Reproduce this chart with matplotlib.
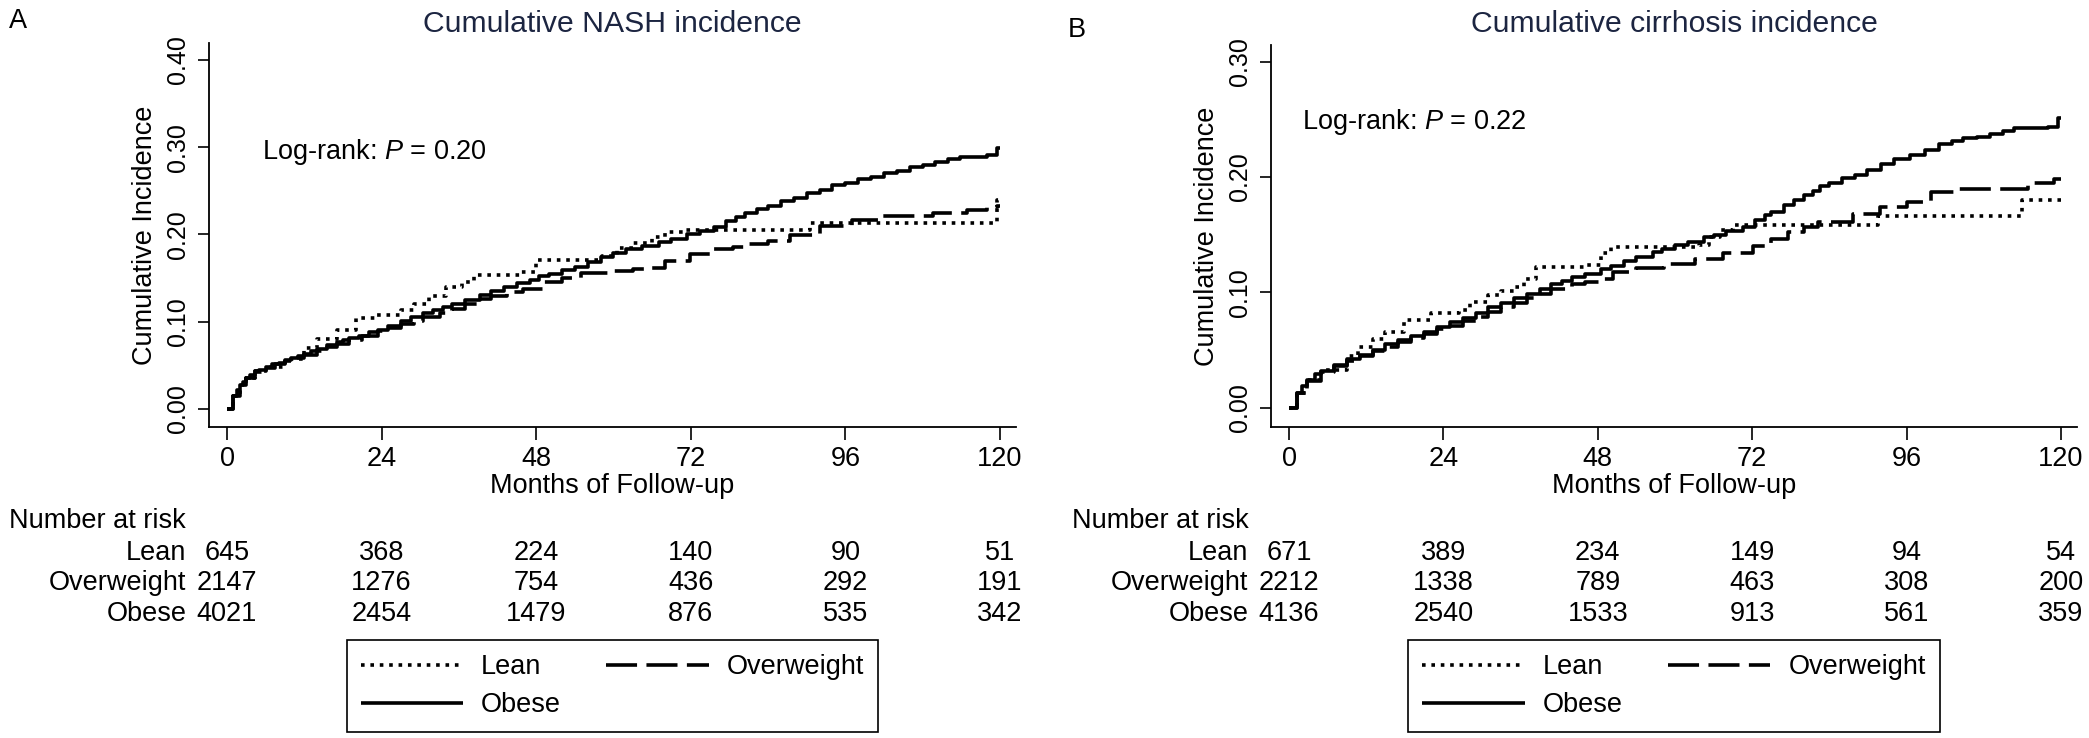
import matplotlib
matplotlib.use("Agg")
import matplotlib.pyplot as plt

plt.rcParams['font.family'] = ['Liberation Sans', 'DejaVu Sans']
plt.rcParams['mathtext.fontset'] = 'custom'
plt.rcParams['mathtext.it'] = 'Liberation Sans:italic'
plt.rcParams['mathtext.rm'] = 'Liberation Sans'

# ---- data ----
groups = ["Lean", "Overweight", "Obese"]
risk_months = [0, 24, 48, 72, 96, 120]

# panel A: NASH
nash_lean_t = [0, 0.5, 1, 2, 3, 4.3, 6, 9, 12, 14, 17, 20, 23, 27, 29, 31.4, 34, 36.5, 38.4,
               45.5, 48, 58.2, 60.5, 63, 66, 68, 71, 90.5, 119.5, 120]
nash_lean_v = [0, 0, 0.015, 0.027, 0.035, 0.043, 0.048, 0.057, 0.070, 0.080, 0.090, 0.104, 0.108,
               0.113, 0.120, 0.130, 0.140, 0.146, 0.153, 0.157, 0.171, 0.175, 0.184, 0.190, 0.197,
               0.203, 0.205, 0.213, 0.239, 0.239]
nash_over_t = [0, 0.5, 1, 2, 3, 4.3, 6, 7.5, 9, 10.5, 12, 14, 15.5, 17, 19, 21, 23.4, 25, 27, 29,
               30.5, 33, 35, 37, 39.3, 41, 43.5, 46, 49, 52, 55, 60, 63, 65.7, 68, 71.9, 75, 78.6,
               81, 84, 87.4, 92, 97, 101.9, 109.6, 114.9, 118, 119.5, 120]
nash_over_v = [0, 0, 0.015, 0.027, 0.035, 0.042, 0.047, 0.051, 0.055, 0.058, 0.062, 0.067, 0.071,
               0.075, 0.079, 0.084, 0.089, 0.093, 0.097, 0.101, 0.105, 0.110, 0.115, 0.120, 0.126,
               0.129, 0.134, 0.138, 0.145, 0.150, 0.156, 0.158, 0.160, 0.162, 0.170, 0.178, 0.183,
               0.186, 0.189, 0.192, 0.199, 0.210, 0.216, 0.221, 0.224, 0.228, 0.231, 0.233, 0.233]
nash_obese_t = [0, 0.5, 1, 1.5, 2, 2.5, 3, 3.6, 4.3, 5, 6, 7, 8, 9, 10, 11, 12, 13, 14, 15.5, 17,
                18, 19, 20.5, 22, 23.4, 25, 27, 28.5, 30.5, 32, 33.5, 35, 37, 39.3, 41, 43, 45, 47,
                48.5, 50, 52, 54, 56, 58, 60, 62, 64.5, 67, 69, 71.4, 73.5, 75.6, 77.5, 79, 80.5,
                82.3, 84, 86, 88, 90, 92, 94, 96, 98, 100, 102, 104, 106, 108, 110, 112, 113.8,
                118, 119.5, 120]
nash_obese_v = [0, 0, 0.015, 0.022, 0.027, 0.031, 0.035, 0.039, 0.043, 0.045, 0.048, 0.051, 0.053,
                0.056, 0.058, 0.061, 0.063, 0.066, 0.069, 0.073, 0.077, 0.079, 0.081, 0.084, 0.088,
                0.091, 0.095, 0.101, 0.105, 0.110, 0.113, 0.117, 0.120, 0.125, 0.131, 0.135, 0.140,
                0.144, 0.148, 0.152, 0.155, 0.159, 0.163, 0.168, 0.174, 0.179, 0.183, 0.187, 0.191,
                0.195, 0.200, 0.204, 0.209, 0.215, 0.220, 0.224, 0.229, 0.233, 0.238, 0.242, 0.247,
                0.251, 0.256, 0.259, 0.263, 0.266, 0.270, 0.273, 0.277, 0.280, 0.283, 0.286, 0.289,
                0.291, 0.299, 0.299]
nash_risk = {"Lean": [645, 368, 224, 140, 90, 51],
             "Overweight": [2147, 1276, 754, 436, 292, 191],
             "Obese": [4021, 2454, 1479, 876, 535, 342]}

# panel B: cirrhosis
cirr_lean_t = [0, 0.5, 1.2, 2.8, 5, 9, 10.7, 13, 15, 17.8, 22, 26.5, 28.2, 31, 33, 35.2, 36.5, 38.4,
               46, 48.5, 50, 63.7, 65.3, 67, 69, 91.6, 114, 120]
cirr_lean_v = [0, 0, 0.013, 0.024, 0.033, 0.045, 0.053, 0.060, 0.066, 0.076, 0.082, 0.085, 0.092,
               0.098, 0.101, 0.105, 0.112, 0.122, 0.124, 0.134, 0.139, 0.141, 0.148, 0.154, 0.158,
               0.166, 0.180, 0.180]
cirr_over_t = [0, 0.5, 1.2, 2.8, 5, 7, 9, 11, 13, 15, 17, 19, 21, 23, 25, 27, 29, 31, 33, 35, 37,
               39, 40.8, 44, 46, 48.5, 50.4, 54, 58.3, 63.1, 67.4, 72.2, 75, 77.5, 80, 82.3, 87.6,
               91.9, 96.1, 99.8, 103.6, 114.9, 119, 120]
cirr_over_v = [0, 0, 0.013, 0.023, 0.031, 0.036, 0.041, 0.045, 0.049, 0.053, 0.057, 0.061, 0.064,
               0.068, 0.071, 0.075, 0.079, 0.083, 0.087, 0.091, 0.095, 0.099, 0.103, 0.107, 0.109,
               0.112, 0.118, 0.121, 0.125, 0.129, 0.134, 0.140, 0.146, 0.152, 0.157, 0.161, 0.168,
               0.174, 0.178, 0.187, 0.190, 0.195, 0.198, 0.198]
cirr_obese_t = [0, 0.5, 1.2, 2, 2.8, 4, 5, 7, 9, 11, 13, 15, 17, 19, 21, 23, 25, 27, 29, 31, 33,
                35, 37, 39, 40.8, 42.5, 44, 46, 48.5, 50, 52, 54, 56.6, 58, 60, 62, 64.5, 66, 68,
                70.5, 72.4, 74, 75, 77, 78.5, 80, 81.5, 82.5, 84, 86, 88, 89.8, 92, 94, 96.5, 98.9,
                101, 103, 104.7, 107, 109, 111, 112.7, 118, 119.5, 120]
cirr_obese_v = [0, 0, 0.013, 0.019, 0.024, 0.029, 0.032, 0.037, 0.042, 0.046, 0.050, 0.055, 0.059,
                0.062, 0.066, 0.070, 0.074, 0.078, 0.082, 0.087, 0.091, 0.095, 0.099, 0.103, 0.107,
                0.110, 0.113, 0.116, 0.120, 0.123, 0.127, 0.131, 0.135, 0.138, 0.141, 0.144, 0.148,
                0.150, 0.153, 0.157, 0.163, 0.167, 0.170, 0.176, 0.180, 0.184, 0.188, 0.192, 0.195,
                0.199, 0.202, 0.206, 0.211, 0.216, 0.219, 0.223, 0.229, 0.231, 0.234, 0.235, 0.237,
                0.240, 0.242, 0.243, 0.251, 0.251]
cirr_risk = {"Lean": [671, 389, 234, 149, 94, 54],
             "Overweight": [2212, 1338, 789, 463, 308, 200],
             "Obese": [4136, 2540, 1533, 913, 561, 359]}

# ---- styles ----
W, H = 2089, 738
FS = 19.5
LW = 2.6
styles = {"Lean": (0, (1.0, 1.6)),
          "Overweight": (0, (8.6, 2.6)),
          "Obese": "-"}
TITLE_COLOR = "#1c2541"

fig = plt.figure(figsize=(W / 100, H / 100), dpi=100)


def fx(px):
    return px / W


def fy(py):
    return 1 - py / H


def draw_panel(left_px, right_px, top_px, ylim, yticks, letter, letter_pos, title,
               series, risk, logrank, logrank_pos):
    bottom_px = 427
    hpx = bottom_px - top_px
    ax = fig.add_axes([fx(left_px), fy(bottom_px), fx(right_px - left_px), hpx / H])
    lines = {}
    for name in groups:
        t, v = series[name]
        ln, = ax.step(t, v, where="post", color="black", lw=LW,
                      linestyle=styles[name], solid_capstyle="butt",
                      dash_capstyle="butt", label=name)
        lines[name] = ln
    ax.set_xlim(-2.8, 122.5)
    ax.set_ylim(*ylim)
    ax.set_xticks(risk_months)
    ax.set_yticks(yticks)
    ax.set_yticklabels(["%.2f" % y for y in yticks])
    for s in ["top", "right"]:
        ax.spines[s].set_visible(False)
    for s in ["left", "bottom"]:
        ax.spines[s].set_linewidth(1.3)
    ax.tick_params(axis="x", length=9, width=1.2, labelsize=FS, pad=4.5)
    ax.tick_params(axis="y", length=8, width=1.2, labelsize=18, pad=6, labelrotation=90)
    for lab in ax.get_yticklabels():
        lab.set_va("center")

    ax.text(-0.079, 0.5, "Cumulative Incidence", transform=ax.transAxes, rotation=90,
            ha="center", va="center", fontsize=FS)
    ax.text(0.5, -(493 - bottom_px) / hpx, "Months of Follow-up", transform=ax.transAxes,
            ha="center", va="baseline", fontsize=FS)

    # number-at-risk table under the axis
    tr = ax.get_xaxis_transform()
    ax.text(-33.8, -(528 - bottom_px) / hpx, "Number at risk", transform=tr,
            ha="left", va="baseline", fontsize=FS, clip_on=False)
    row_base = {"Lean": 560, "Overweight": 590, "Obese": 621}
    for name in groups:
        yb = -(row_base[name] - bottom_px) / hpx
        ax.text(-6.3, yb, name, transform=tr, ha="right", va="baseline", fontsize=FS)
        for m, n in zip(risk_months, risk[name]):
            ax.text(m, yb, str(n), transform=tr, ha="center", va="baseline", fontsize=FS)

    ax.text(logrank_pos[0], logrank_pos[1], logrank, ha="left", va="center", fontsize=FS)

    fig.text(fx(letter_pos[0]), fy(letter_pos[1]), letter, ha="left", va="baseline",
             fontsize=FS)
    fig.text(fx((left_px + right_px) / 2), fy(32), title, ha="center", va="baseline",
             fontsize=21.7, color=TITLE_COLOR)

    leg = ax.legend([lines["Lean"], lines["Obese"], lines["Overweight"]],
                    ["Lean", "Obese", "Overweight"], ncol=2, loc="upper center",
                    bbox_to_anchor=(fx((left_px + right_px) / 2), fy(640)),
                    bbox_transform=fig.transFigure, fontsize=FS, frameon=True,
                    fancybox=False, edgecolor="black", framealpha=1,
                    handlelength=3.78, handletextpad=0.67, columnspacing=1.67,
                    borderpad=0.52, labelspacing=0.45, borderaxespad=0)
    leg.get_frame().set_linewidth(1.2)
    for h in leg.get_lines():
        h.set_linewidth(LW)
    return ax


draw_panel(209, 1016, 43, (-0.0206, 0.4192), [0, 0.1, 0.2, 0.3, 0.4], "A", (9, 28),
           "Cumulative NASH incidence",
           {"Lean": (nash_lean_t, nash_lean_v),
            "Overweight": (nash_over_t, nash_over_v),
            "Obese": (nash_obese_t, nash_obese_v)},
           nash_risk, r"Log-rank: $\mathit{P}$ = 0.20", (5.4, 0.294))

draw_panel(1271, 2077, 45, (-0.0165, 0.3143), [0, 0.1, 0.2, 0.3], "B", (1068, 37),
           "Cumulative cirrhosis incidence",
           {"Lean": (cirr_lean_t, cirr_lean_v),
            "Overweight": (cirr_over_t, cirr_over_v),
            "Obese": (cirr_obese_t, cirr_obese_v)},
           cirr_risk, r"Log-rank: $\mathit{P}$ = 0.22", (2.0, 0.2476))

fig.savefig("out.png", dpi=100)
